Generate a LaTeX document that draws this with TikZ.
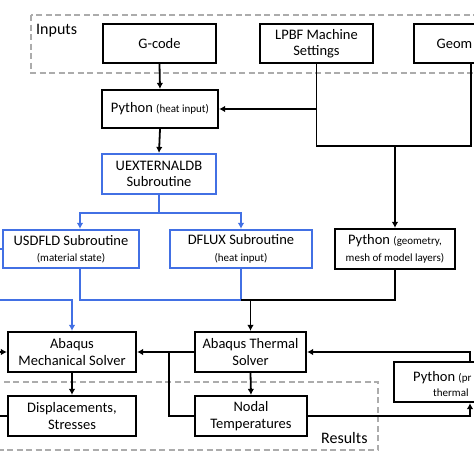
\documentclass[tikz,border=0pt]{standalone}
\usepackage{fontspec}
\setmainfont{Carlito}
\usetikzlibrary{arrows.meta}
\definecolor{bl}{RGB}{66,112,228}
\definecolor{dgrey}{RGB}{172,172,172}
\newcommand{\sm}[1]{{\fontsize{11}{13}\selectfont #1}}
\begin{document}
\begin{tikzpicture}[x=1pt,y=-1pt,
  box/.style={draw=black, line width=2.2pt, inner sep=0pt, align=center, font=\fontsize{14.5}{16.5}\selectfont},
  bbox/.style={box, draw=bl},
  txt/.style={inner sep=0pt, font=\fontsize{14.5}{16.5}\selectfont},
  conn/.style={line width=1.8pt, draw=black},
  bconn/.style={line width=1.8pt, draw=bl},
  arr/.style={-{Latex[length=6pt,width=6.5pt]}},
  arrb/.style={{Latex[length=6pt,width=6.5pt]}-{Latex[length=6pt,width=6.5pt]}},
  grp/.style={draw=dgrey, line width=1.8pt, dash pattern=on 6pt off 3.5pt},
  lab/.style={font=\fontsize{16}{18}\selectfont, inner sep=0pt}
]
\useasboundingbox (0,0) rectangle (474,474);
\clip (0,0) rectangle (474,474);
\fill[white] (0,0) rectangle (474,474);

% group frames
\draw[grp] (31,15) rectangle (520,73);
\draw[grp] (-20,382) rectangle (378,450);
\node[lab, anchor=base west] (inlab) at (36,34) {Inputs};
\node[lab, anchor=base west] (reslab) at (321,443) {Results};

% boxes
\node[box, minimum width=113pt, minimum height=39pt] (gcode) at (159.5,43.5) {G-code};
\node[box, minimum width=113pt, minimum height=39pt] (lpbf) at (316.5,43.5) {LPBF Machine\\Settings};
\node[box, minimum width=114pt, minimum height=39pt] (geom) at (471,43.5) {};
\node[txt, anchor=west] (geomtxt) at (436.5,44) {Geom};
\node[box, minimum width=116pt, minimum height=38pt] (pyheat) at (160,109) {Python \sm{(heat input)}};
\node[bbox, minimum width=114pt, minimum height=40pt] (uext) at (159,174) {UEXTERNALDB\\Subroutine};
\node[bbox, minimum width=136pt, minimum height=38pt] (usdfld) at (71,249) {USDFLD Subroutine\\\sm{(material state)}};
\node[bbox, minimum width=142pt, minimum height=38pt] (dflux) at (241,249) {DFLUX Subroutine\\\sm{(heat input)}};
\node[box, minimum width=120pt, minimum height=40pt] (pygeom) at (395,249) {Python \sm{(geometry,}\\\sm{mesh of model layers)}};
\node[box, minimum width=128pt, minimum height=40pt] (mech) at (72,352) {Abaqus\\Mechanical Solver};
\node[box, minimum width=111pt, minimum height=40pt] (therm) at (250.5,352) {Abaqus Thermal\\Solver};
\node[box, minimum width=128pt, minimum height=40pt] (disp) at (72,416) {Displacements,\\Stresses};
\node[box, minimum width=112pt, minimum height=40pt] (nodal) at (251,416) {Nodal\\Temperatures};
\node[box, minimum width=134pt, minimum height=40pt] (pyth) at (461,382) {};
\node[txt, anchor=base west] (pyt1) at (413,381) {Python \sm{(pr}};
\node[txt, anchor=base west] (pyt2) at (433,396) {\sm{thermal}};

% helper coordinates
\coordinate (ja) at (317,146);
\coordinate (ub) at (80,213);
\coordinate (mb) at (80,300);
\coordinate (mk) at (241,300);
\coordinate (lb1) at (-2,249);
\coordinate (lb2) at (-2,300);
\coordinate (lk1) at (-2,352);
\coordinate (lk2) at (-2,416);
\coordinate (jn) at (169,352);
\coordinate (xr) at (470,0);

% black connectors (top)
\draw[conn] (lpbf.south) -- (lpbf.south |- ja) -| (geom.south);
\draw[conn,arr] (lpbf.south |- pyheat.east) -- (pyheat.east);
\draw[conn,arr] (pygeom.north |- ja) -- (pygeom.north);
\draw[conn,arr] (gcode.south) -- (pyheat.north);
\draw[conn,arr] (pyheat.south) -- (uext.north);

% blue connectors
\draw[bconn] (uext.south) -- (uext.south |- ub);
\draw[bconn,arrb] (dflux.north) -- (dflux.north |- ub) -- (ub) -- (usdfld.north -| ub);
\draw[bconn] (usdfld.south -| mb) -- (mb) -- (mk) -- (dflux.south);
\draw[bconn] (usdfld.west) -- (lb1);
\draw[bconn,arr] (lb2) -| (mech.north);

% black connectors (bottom)
\draw[conn] (pygeom.south) |- (mk);
\draw[conn,arr] (therm.north |- mk) -- (therm.north);
\draw[conn,arr] (therm.west) -- (mech.east);
\draw[conn] (jn) |- (nodal.west);
\draw[conn,arr] (mech.south) -- (disp.north);
\draw[conn,arr] (therm.south) -- (nodal.north);
\draw[conn,arr] (lk1) -- (mech.west);
\draw[conn] (disp.west) -- (lk2);
\draw[conn,arr] (nodal.east) -| (pyth.south -| xr);
\draw[conn,arr] (pyth.north -| xr) |- (therm.east);
\end{tikzpicture}
\end{document}
